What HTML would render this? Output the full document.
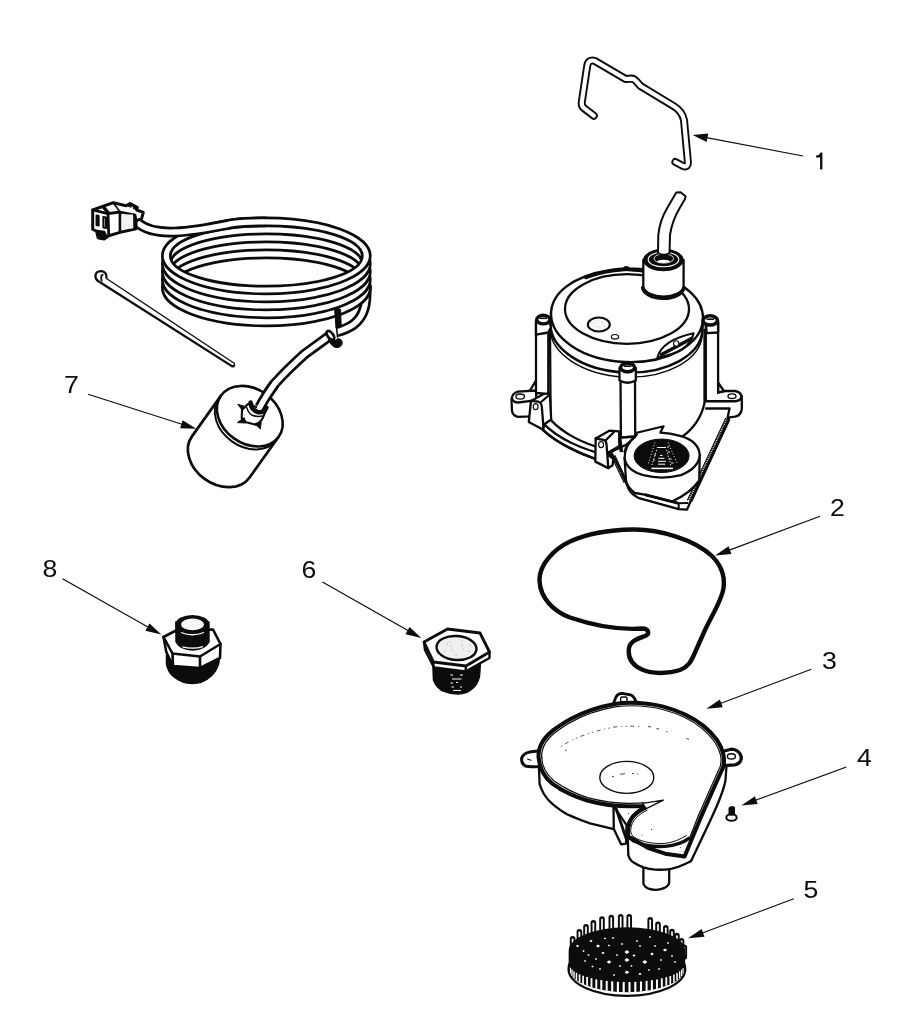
<!DOCTYPE html>
<html>
<head>
<meta charset="utf-8">
<title>Pump exploded view</title>
<style>
html,body{margin:0;padding:0;background:#fff;}
body{width:900px;height:1024px;overflow:hidden;font-family:"Liberation Sans",sans-serif;}
svg{display:block;}
.l{fill:none;stroke:#0c0c0c;stroke-width:2.3;stroke-linecap:round;stroke-linejoin:round;}
.w{fill:#fff;stroke:#0c0c0c;stroke-width:2.3;stroke-linecap:round;stroke-linejoin:round;}
.t{fill:none;stroke:#0c0c0c;stroke-width:1.1;stroke-linecap:round;stroke-linejoin:round;}
.k{fill:#0c0c0c;stroke:#0c0c0c;stroke-width:1;stroke-linejoin:round;}
.ar{stroke:#0c0c0c;stroke-width:1.2;fill:none;}
.ah{fill:#0c0c0c;stroke:none;}
text{font-family:"Liberation Sans",sans-serif;font-size:23px;fill:#0c0c0c;}
</style>
</head>
<body>
<svg width="900" height="1024" viewBox="0 0 900 1024">
<rect x="0" y="0" width="900" height="1024" fill="#fff"/>

<!-- ===== LABELS & ARROWS ===== -->
<g id="labels" style="opacity:.999">
<path d="M822.4,152.4 L822.4,169.4 L820.1,169.4 L820.1,157.5 L816.1,157.5 L816.1,155.5 Q819.6,155.2 820.7,152.4 Z" fill="#0c0c0c"/>
<text transform="translate(830.0 515.8) scale(1.16 1)">2</text>
<text transform="translate(822.0 668.8) scale(1.16 1)">3</text>
<text transform="translate(857.0 765.5) scale(1.16 1)">4</text>
<text transform="translate(803.5 898.0) scale(1.16 1)">5</text>
<text transform="translate(301.5 577.5) scale(1.16 1)">6</text>
<text transform="translate(64.0 392.5) scale(1.16 1)">7</text>
<text transform="translate(42.5 577) scale(1.16 1)">8</text>
</g>
<g id="arrows">
<line class="ar" x1="803" y1="156" x2="700" y2="136.4"/>
<polygon class="ah" points="692.7,135 708.3,133.4 706.6,142"/>
<line class="ar" x1="820" y1="516.3" x2="722" y2="552.9"/>
<polygon class="ah" points="715,555.5 728.6,546.2 731.4,554"/>
<line class="ar" x1="811.3" y1="669.3" x2="713" y2="706.2"/>
<polygon class="ah" points="706.3,708.8 719.9,699.4 722.8,707.2"/>
<line class="ar" x1="846.3" y1="767" x2="748" y2="803"/>
<polygon class="ah" points="741.3,805.5 754.9,796.3 757.7,804"/>
<line class="ar" x1="793.8" y1="898.8" x2="695" y2="935.7"/>
<polygon class="ah" points="688,938.3 701.6,928.9 704.5,936.7"/>
<line class="ar" x1="322.5" y1="582" x2="415" y2="634.5"/>
<polygon class="ah" points="421.3,638 405.5,634.2 409.6,627"/>
<line class="ar" x1="88" y1="394.3" x2="189" y2="426.5"/>
<polygon class="ah" points="196.3,428.8 180.2,428.2 182.7,420.2"/>
<line class="ar" x1="62.5" y1="578.8" x2="155" y2="631"/>
<polygon class="ah" points="161.3,634.5 145.4,630.7 149.5,623.5"/>
</g>

<!-- ===== PART 1 : HANDLE ===== -->
<g id="p1">
<path d="M593.8,115.7 L584,108.2 Q581.2,105.8 581.8,102 L587.2,66 Q588.2,59.2 594.5,60.8 L625.6,79 L631.5,78.6 Q634,78.6 636,81 L640.5,86 L674,106.3 Q682,111 684,120 L687.9,162 Q688.2,167.8 683,166 L675.4,162" fill="none" stroke="#0c0c0c" stroke-width="8" stroke-linecap="round" stroke-linejoin="round"/>
<path d="M593.8,115.7 L584,108.2 Q581.2,105.8 581.8,102 L587.2,66 Q588.2,59.2 594.5,60.8 L625.6,79 L631.5,78.6 Q634,78.6 636,81 L640.5,86 L674,106.3 Q682,111 684,120 L687.9,162 Q688.2,167.8 683,166 L675.4,162" fill="none" stroke="#fff" stroke-width="4.2" stroke-linecap="round" stroke-linejoin="round"/>
</g>

<!-- ===== PART 2 : GASKET ===== -->
<g id="p2">
<path d="M632.5,529.5 C660,529 695,540 712,556 C722,566 725,577 723.5,588 C722,600 712,615 705,630 L695,652.5 C691,662 688,667 680,670 C668,674 652,674 642,669.5 C632,665 627.5,658 629,648 C630,641 638,638.5 645,636 C650,634 649,628.5 642,628.5 C620,630 595,626 570,617.5 C553,611 540.5,598 539.5,581 C539,566 552,550 570,541.5 C590,532.5 612,529.8 632.5,529.5 Z" fill="none" stroke="#0c0c0c" stroke-width="4.4" stroke-linejoin="round"/>
</g>


<!-- ===== PUMP BODY ===== -->
<g id="pump">
<!-- base plate (behind) -->
<path class="w" d="M704.5,401 L718.1,392.4 L718,382.5 L723.9,391 L735,391 Q741.8,392 741.8,398.5 L741.8,409 Q741,415.5 735,416.7 L729.5,417.3 L690.5,501.5 L687,509.6 L678.7,509.1 L639,498.2 Q631,494 628.9,489.6 L621.7,472.2 L611,452 L640,438 Z"/>
<path d="M727.3,419.5 L689.3,501" fill="none" stroke="#0c0c0c" stroke-width="3.4" stroke-dasharray="1.1 0.9"/>
<path class="t" d="M725.6,418.5 L687.5,500"/>
<path d="M729.4,419.5 L691.2,501.8" fill="none" stroke="#0c0c0c" stroke-width="2"/>
<path class="l" d="M706,408.5 L729.5,408.5 L727.5,418"/>
<path class="l" d="M705.8,401.2 L735.5,401.2 Q741,400.5 741.8,396.8 M718.1,392.4 L724,391.2" style="stroke-width:2.6"/>
<ellipse class="w" cx="732" cy="396.2" rx="4" ry="2.3" style="stroke-width:1.4"/>
<path class="l" d="M678.7,503.3 L678.7,509.1 M678.7,503.3 L687.5,503 M678.7,503.3 L644.8,494.6" style="stroke-width:2"/>
<!-- left ear -->
<path class="w" d="M536,390.5 L518,391.6 Q511.8,393 511.5,400 L512,411 Q513,416 518,416.8 L531,416.3 L536.5,405 Z"/>
<path class="l" d="M511.8,398.5 Q513.5,402.5 518,402.5 L531,400.9"/>
<ellipse class="w" cx="520.2" cy="396.6" rx="4.3" ry="2.6" style="stroke-width:1.3"/>
<path class="l" d="M530.3,390 L536,380.7"/>
<!-- base flange left curve -->
<path class="w" d="M542.8,429.8 Q562,447 594.6,458.7 L606,462 L612,446 L596,440 L550,405 Z"/>
<path class="l" d="M551.2,420.4 Q567,437 595.3,446.4"/>
<path class="l" d="M544,424.1 Q562,442 595.3,452.2"/>
<path class="l" d="M542.8,429.8 Q560,446 594.6,458.7"/>
<!-- body cylinder -->
<path d="M550,330 L550.5,412 Q570,436 605,443 L640,436 L682,437 Q700,424 704.5,403 L704.5,330 Z" fill="#fff" stroke="none"/>
<path class="l" d="M550,330 L550.6,418 M704.5,330 L704.5,403 Q700,424 682,436.8"/>
<!-- step near discharge -->
<path class="l" d="M636.8,432.8 L663.6,426.3 L660.7,431.8" style="stroke-width:2.2"/>
<!-- discharge boss -->
<path class="w" d="M624.6,457.8 L626,481 Q628,488 635,493 L644.8,494.6 L672,501.5 Q690,493.5 699.3,480.5 L699.7,455 Z"/>
<path d="M644.8,494.6 L678.7,503.3" fill="none" stroke="#0c0c0c" stroke-width="2.8"/>
<path d="M636.8,434.7 Q624.6,445 624.6,457.8 Q626,470 643.3,475.1 Q662,480 680.9,475.1 Q699,468 699.7,454.9 Q699,441 680,435.8 Q670,433.2 660.5,433 Z" fill="#fff" stroke="none"/>
<path class="l" d="M636.8,434.7 Q624.6,445 624.6,457.8 Q626,470 643.3,475.1 Q662,480 680.9,475.1 Q699,468 699.7,454.9 Q699,441 680,435.8 Q670,433.2 660.5,432.6"/>
<ellipse class="k" cx="661.6" cy="455.8" rx="27.5" ry="16.7"/>
<g fill="none" stroke="#fff" stroke-width="1">
<path d="M657,447.5 L666,447.5 M660,455.4 L662.6,455.4 M658.3,458.3 L664.4,458.3 M658,461.3 L666,461.3 M658,464.2 L665.2,464.2"/>
<path d="M651.5,468.4 L673,468.4" stroke-width="1.5"/>
<path d="M655,442.5 L648.3,463.5 M668,442.5 L677.5,464" stroke-dasharray="1 2"/>
<path d="M656.7,450 L651.7,465.5 M666.7,450 L670.8,465.5" stroke-dasharray="1.2 1.7"/>
<path d="M654,455 L656,455 M668,452 L670,452 M653,460 L655,460 M669,459 L671.5,459 M671,463 L673.5,463 M667,447 L669,447" stroke-width=".9"/>
</g>
<!-- left edge of plate near boss -->
<path d="M613.5,456.5 L625.3,481.5" fill="none" stroke="#0c0c0c" stroke-width="3" stroke-dasharray="1.1 0.9"/>
<path class="t" d="M612,457.5 L624,482.5 M615,455.5 L626.5,480.5"/>
<!-- left bracket -->
<path class="w" d="M531,400.9 L546.9,392.3 L549.8,393.7 L551.2,419.5 L543.3,425 L543.3,429.8 L528.8,421.9 Z"/>
<path class="l" d="M531,400.9 L538.5,401.7 Q541.5,403 541.8,406.7 L543.3,425 M540.5,402.5 L549.8,394.5"/>
<ellipse class="w" cx="535.6" cy="406.7" rx="2.4" ry="3" style="stroke-width:1.2"/>
<!-- center bracket -->
<path class="w" d="M595.7,438.5 L609.7,430.6 L619.1,431.3 L619.5,446 L608.2,452.5 L613.3,458.7 L612.6,465.2 L608.3,468.1 L595.3,461.6 Z"/>
<path class="l" d="M595.7,438.5 L603.5,439.8 Q606.3,441 606.5,444 L608.3,468.1 M605.5,440.5 L614,432 M608.3,455.1 L613.3,458.7"/>
<ellipse class="w" cx="601.1" cy="444.7" rx="2.4" ry="3" style="stroke-width:1.2"/>
<!-- posts -->
<path class="w" d="M536,322 L536,393 L548.3,393.9 L548.3,322 Z"/>
<path d="M705.8,322 L705.8,399.9 L717,399.9 L717,322 Z" fill="#fff" stroke="none"/>
<path class="l" d="M705.8,322 L705.8,400.5 M718.1,322 L718.1,392.4"/>
<path class="w" d="M620.5,375 L620.9,437.3 L635.2,436.5 L635,375 Z"/>
<path d="M619.6,438 L621.5,452" stroke="#0c0c0c" stroke-width="3.6" fill="none"/>
<path class="l" d="M621,437.5 L635,436.6 M635,437 L627,444 L624.6,452"/>
<!-- lid -->
<g transform="rotate(2.5 627 316)">
<path class="l" d="M551,331 A76,46 0 0 0 703,331" style="stroke-width:1.5"/>
<path class="w" d="M551,316 L551,326.5 A76,46 0 0 0 703,326.5 L703,316 Z" style="stroke-width:2.5"/>
<ellipse class="w" cx="627" cy="316" rx="76" ry="46" style="stroke-width:2.4"/>
</g>
<path d="M586,277.3 Q604,270.5 624,269.3 Q626,266.5 629,269.2 L644,270" fill="none" stroke="#0c0c0c" stroke-width="3.9" stroke-linecap="round"/>
<ellipse class="l" cx="627" cy="309" rx="62" ry="34.8" style="stroke-width:2.3"/>
<!-- lid small features -->
<ellipse cx="598.8" cy="324.5" rx="11" ry="7" fill="#f7f7f7" stroke="#0c0c0c" stroke-width="2.1"/>
<g fill="#d4d4d4"><circle cx="594" cy="323" r=".7"/><circle cx="598" cy="326.5" r=".7"/><circle cx="602" cy="322.5" r=".7"/><circle cx="600" cy="328" r=".7"/><circle cx="604.5" cy="326" r=".7"/><circle cx="596.5" cy="320.5" r=".7"/></g>
<ellipse class="w" cx="615" cy="336.8" rx="3.6" ry="2.3" style="stroke-width:1.2"/>
<path class="w" d="M657.4,357.5 Q662,340 693.6,333.2 Q690,352 657.4,357.5 Z" style="stroke-width:2.1"/>
<path d="M661.5,354.5 Q674,348 691.5,338.5" fill="none" stroke="#0c0c0c" stroke-width="3.6" stroke-linecap="round"/>
<circle class="w" cx="676.2" cy="343.5" r="2.7" style="stroke-width:1.1"/>
<!-- left post cap + lug -->
<path class="w" d="M536,321 L536,334.7 L548.3,332.5 L551,327 L548,319 Z"/>
<ellipse cx="543.3" cy="319.6" rx="6.6" ry="4.3" fill="#fff" stroke="#0c0c0c" stroke-width="3.4"/>
<path d="M539.5,318.3 L547,318.3" stroke="#0c0c0c" stroke-width="1.6" fill="none"/>
<!-- right post cap + lug -->
<path class="w" d="M705.8,321 L706.6,333.2 L718.1,332.5 L718.1,321 Z"/>
<ellipse cx="710.2" cy="320.4" rx="7.2" ry="4.6" fill="#fff" stroke="#0c0c0c" stroke-width="3.6"/>
<path d="M706.5,319.2 L714,319.2" stroke="#0c0c0c" stroke-width="1.6" fill="none"/>
<!-- center post cap -->
<path class="w" d="M619.5,368 L619.5,380.5 Q627.5,385 635.8,380.5 L635.8,368 Z"/>
<ellipse cx="627.6" cy="367.5" rx="7" ry="4.3" fill="#fff" stroke="#0c0c0c" stroke-width="3.4"/>
<path d="M624,366.2 L631.4,366.2" stroke="#0c0c0c" stroke-width="1.6" fill="none"/>
<!-- gland -->
<path class="w" d="M643.3,260 L643.3,287 A20.3,11 0 0 0 683.6,287 L683.6,260 Z"/>
<path d="M642.6,286.5 A20.6,11.6 0 0 0 684,287" fill="none" stroke="#0c0c0c" stroke-width="3.4"/>
<ellipse class="k" cx="663.4" cy="260" rx="20" ry="10.8"/>
<ellipse cx="663.5" cy="259.4" rx="15.3" ry="7.4" fill="none" stroke="#fff" stroke-width="1.1"/>
<ellipse cx="663.8" cy="258.5" rx="9.8" ry="4.6" fill="none" stroke="#fff" stroke-width=".8"/>
<ellipse cx="663.6" cy="261.4" rx="6.2" ry="1.7" fill="#fff"/>
<!-- cable -->
<path class="w" d="M658,253 L658.3,235 Q659.5,221 667.5,207.5 L676.3,192.5 L680.5,192.3 L685.6,196.3 L685,199 L680,207.5 Q672,221 670,235 L669.5,253 Q663.8,256.5 658,253 Z" style="stroke-width:2"/>
</g>

<!-- ===== PART 7 : CORD, FLOAT ===== -->
<g id="p7">
<defs><clipPath id="coilin"><ellipse cx="266.3" cy="256.0" rx="96.0" ry="30.2"/></clipPath></defs>
<path d="M366.5,285 L365.8,300 Q364.5,316 353.5,324.5 Q347,329 337,331.8" fill="none" stroke="#0c0c0c" stroke-width="10.8" stroke-linecap="butt"/>
<path d="M366.5,285 L365.8,300 Q364.5,316 353.5,324.5 Q347,329 337,331.8" fill="none" stroke="#fff" stroke-width="5.4" stroke-linecap="butt"/>
<path d="M330,335.6 L305,353.8 Q286,371 274.5,384 Q268,393 263,401" fill="none" stroke="#0c0c0c" stroke-width="10.7" stroke-linecap="butt"/>
<path d="M330,335.6 L305,353.8 Q286,371 274.5,384 Q268,393 263,401" fill="none" stroke="#fff" stroke-width="5.3" stroke-linecap="butt"/>
<ellipse cx="330.4" cy="335.4" rx="5.3" ry="2.7" transform="rotate(52 330.4 335.4)" class="w" style="stroke-width:2.7"/>
<ellipse class="w" style="stroke-width:2.7" cx="266.3" cy="287.8" rx="104.0" ry="38.0"/>
<ellipse class="w" style="stroke-width:2.7" cx="266.3" cy="279.8" rx="104.0" ry="38.0"/>
<ellipse class="w" style="stroke-width:2.7" cx="266.3" cy="271.8" rx="104.0" ry="38.0"/>
<ellipse class="w" style="stroke-width:2.7" cx="266.3" cy="263.8" rx="104.0" ry="38.0"/>
<ellipse class="w" style="stroke-width:2.7" cx="266.3" cy="255.8" rx="104.0" ry="38.0"/>
<g clip-path="url(#coilin)">
<ellipse class="l" style="stroke-width:2.7" cx="266.3" cy="288.0" rx="96.0" ry="30.2"/>
<ellipse class="l" style="stroke-width:2.7" cx="266.3" cy="280.0" rx="96.0" ry="30.2"/>
<ellipse class="l" style="stroke-width:2.7" cx="266.3" cy="272.0" rx="96.0" ry="30.2"/>
<ellipse class="l" style="stroke-width:2.7" cx="266.3" cy="264.0" rx="96.0" ry="30.2"/>
</g>
<ellipse class="l" style="stroke-width:2.7" cx="266.3" cy="256.0" rx="96.0" ry="30.2"/>
<path d="M137,222.3 C146,230.5 160,232.6 175,232 C195,231.2 215,227 232,223.7 C245,221.6 255,221.6 266,221.9" fill="none" stroke="#0c0c0c" stroke-width="10.7" stroke-linecap="butt"/>
<path d="M137,222.3 C146,230.5 160,232.6 175,232 C195,231.2 215,227 232,223.7 C245,221.6 255,221.6 266,221.9" fill="none" stroke="#fff" stroke-width="5.3" stroke-linecap="butt"/>
<path class="k" d="M334.6,309.5 Q337.5,306.5 340.6,309.5 L341.2,325.5 L336,327.5 Z"/>
<path class="l" d="M336.5,327 L337.5,337" style="stroke-width:1.6"/>
<path class="k" d="M328.5,339.5 Q333,343 338,338.6 Q342.5,339 342.2,343.5 Q341,348 336,347.6 Q331,346.5 328.5,339.5 Z"/>
<g stroke="#0c0c0c" stroke-linejoin="round" stroke-linecap="round">
<path d="M92.7,210 L113.3,202.7 L126,205.7 L130,203.5 L137.3,207.3 L136.7,210 L143.3,212.4 L141.6,218.7 L136,220.9 L136,228.7 L120,232.4 L108.7,235.8 L104,239 L98,237.5 L96.5,231 L92.7,229.3 Z" fill="#fff" stroke-width="3"/>
<path d="M92.7,210 L108,213.7 L108.7,234.5 M108,213.7 L120,212 L120,231.5 M120,212 L135,215 L136,220.9 M134.5,215 L134.7,228" fill="none" stroke-width="2.8"/>
<path d="M103.3,206.8 L108.7,213.3" fill="none" stroke-width="3.4"/>
<path d="M113.3,202.7 L120,212" fill="none" stroke-width="1.6"/>
<rect x="121.5" y="214.5" width="11.5" height="14" fill="#f2f2f2" stroke="none"/>
<path d="M96.6,215.5 L96.6,225 L98.6,225.5 L98.6,216 Z M103.4,217 L103.4,227.5 L106,228 L106,217.6 Z" fill="#fff" stroke-width="2.1"/>
<path d="M97.3,230.5 L104.5,231.5 L106.7,236 L103,239.3 L98,238.5 Z" fill="#0c0c0c" stroke-width="1.5"/>
<path d="M126.5,205.3 L130,203.3 L133,205 L131.5,207 Z M134.5,206 L137.5,207.4 L136.7,210 L133.5,208.5 Z" fill="#0c0c0c" stroke-width="1"/>
</g>
<path d="M96.6,272.6 Q99,270.6 102.5,271.3 Q106,272.3 106.3,275.5 L106.5,278.5 L234.2,363.2 L234.6,366 L232.2,366.4 L100,282.2 Q96.3,280.5 95.6,277.5 Q95.2,274.4 96.6,272.6 Z" fill="#fff" stroke="none"/>
<path d="M106.5,278.5 L234.2,363.2 L234.6,366" fill="none" stroke="#0c0c0c" stroke-width="1.3" stroke-linejoin="round"/>
<path d="M234.6,366 L232.2,366.4 L100,282.2" fill="none" stroke="#0c0c0c" stroke-width="2.3" stroke-linejoin="round"/>
<path d="M106.5,278.8 L106.3,275.5 Q106,272.3 102.5,271.3 Q99,270.6 96.6,272.6 Q95.2,274.4 95.6,277.5 Q96.3,280.5 100,282.2" fill="none" stroke="#0c0c0c" stroke-width="2.2" stroke-linejoin="round"/>
<path d="M101.6,281.5 L101.2,276.5 Q101.5,274.6 103.4,274.6" fill="none" stroke="#0c0c0c" stroke-width="1.8"/>
<g transform="translate(249.8,416.2) rotate(35.5)">
<path class="w" d="M-35.4,0 L-35.4,50 A35.4,27.3 0 0 0 35.4,50 L35.4,0 Z" style="stroke-width:2.7"/>
<ellipse class="w" cx="0" cy="3.6" rx="35.4" ry="27.3" style="stroke-width:2"/>
<ellipse class="w" cx="0" cy="0" rx="35.4" ry="27.3" style="stroke-width:2.6"/>
</g>
<path class="w" d="M248,404 L242,410 L241.7,418 L245.5,422 L256.5,425 L262,419.5 L266,410.5 Z" style="stroke-width:2.1"/>
<path class="k" d="M237.8,404.2 L244.8,406.4 L242.2,410.2 Z M237.4,422.6 L244.2,417.6 L246,423 Z M254.8,423.6 L261.2,421.8 L260.4,429 Z"/>
<path class="l" d="M246.8,407.6 Q248.6,413.6 252.2,415.3 Q257,417.2 262.3,416.1" style="stroke-width:1.5"/>
<path d="M250.6,402.6 Q251,410 258.4,412.2 Q264.5,412.6 266.4,407.6" fill="none" stroke="#0c0c0c" stroke-width="4.6" stroke-linecap="round"/>
<path d="M274.5,384 Q265.5,396.5 259.8,407.2" fill="none" stroke="#0c0c0c" stroke-width="10.7" stroke-linecap="butt"/>
<path d="M275.5,382.6 Q265.5,396.5 259.8,407.2" fill="none" stroke="#fff" stroke-width="5.3" stroke-linecap="round"/>
</g>

<!-- ===== PART 8 : FITTING ===== -->
<g id="p8" stroke-linejoin="round">
<path d="M166.5,655 L166.5,664 Q168,672 174,677 Q182,683.5 192,683.5 Q203,683.5 210,677 Q217,671 219,662 L219.5,652 Z" fill="#0c0c0c" stroke="#0c0c0c" stroke-width="1.5"/>
<path d="M163.5,637 L166.3,652 L173,666 L200,668 L220,658 L220.5,644 Z" fill="#fff" stroke="#0c0c0c" stroke-width="2.6"/>
<path d="M163.5,637 L175,631 L213,629.5 L220.5,644 L200,656.5 L172.5,653.5 Z" fill="#fff" stroke="#0c0c0c" stroke-width="2.6"/>
<path d="M172.5,653.5 L173,666 M200,656.5 L200,668" fill="none" stroke="#0c0c0c" stroke-width="2.6"/>
<path d="M175.8,622 L176,642 Q180,649.5 192.5,650 Q205,649.5 209,642 L209,622 Z" fill="#0c0c0c" stroke="#0c0c0c" stroke-width="1.4"/>
<path d="M181,632.5 Q192,637 204,632.5" fill="none" stroke="#fff" stroke-width="1.3"/>
<path d="M182.5,646.8 Q192.5,649.6 203,646.6" fill="none" stroke="#fff" stroke-width="1.2"/>
<ellipse cx="192.4" cy="623.5" rx="16.6" ry="8.6" fill="#0c0c0c"/>
<ellipse cx="192.5" cy="624.3" rx="11.5" ry="5.9" fill="#f6f6f6"/>
</g>
<!-- ===== PART 6 : PLUG ===== -->
<g id="p6" stroke-linejoin="round">
<path d="M432.8,664 L433.5,680 Q436,687 442,690.5 Q450,694 458,694 Q467,693.5 472,689 Q478,684 479.5,676 L480.5,662 Z" fill="#0c0c0c" stroke="#0c0c0c" stroke-width="1.5"/>
<path d="M450.5,675 L453,675 M460,675 L463,675 M452,679 L461.5,679 M450.5,683 L453,683 M456,682.4 L458,682.4 M451.5,687 L454,687 M460,687 L462,687 M453,690.4 L461,690.4" fill="none" stroke="#fff" stroke-width="1"/>
<path d="M424,642 L425,650 L434,667.5 L465.5,671.5 L489.5,658 L489.5,652 Z" fill="#fff" stroke="#0c0c0c" stroke-width="2.4"/>
<path d="M424.6,643.5 L433.5,662 L434,667 L425.4,650 Z" fill="#0c0c0c" stroke="#0c0c0c" stroke-width="1.6"/>
<path d="M427,651 L432,661" fill="none" stroke="#fff" stroke-width=".8" stroke-dasharray="1.4 1.6"/>
<path d="M424,642 L447.5,629 L480,633 L489.5,652 L466,666 L433.5,662 Z" fill="#fff" stroke="#0c0c0c" stroke-width="2.8"/>
<path d="M466,666 L465.5,671.5" fill="none" stroke="#0c0c0c" stroke-width="2.4"/>
<ellipse cx="456.5" cy="648" rx="20" ry="12" transform="rotate(4 456.5 648)" fill="#efefef" stroke="#0c0c0c" stroke-width="2.4"/>
<g fill="#9a9a9a"><circle cx="450" cy="642.5" r=".6"/><circle cx="451" cy="646" r=".6"/><circle cx="452" cy="650" r=".6"/><circle cx="462" cy="641" r=".6"/><circle cx="462" cy="645" r=".6"/><circle cx="463" cy="649" r=".6"/><circle cx="445" cy="651" r=".6"/><circle cx="469" cy="651.5" r=".6"/><circle cx="456" cy="655" r=".6"/><circle cx="447" cy="644" r=".6"/><circle cx="470" cy="645" r=".6"/></g>
</g>

<!-- ===== PART 3 : VOLUTE ===== -->
<g id="p3">
<path class="w" d="M643.4,866 L643.4,884 C645,887 646.5,887.8 647.8,888.3 C652,889.8 654,889.9 656.4,889.8 C661,889.5 663,888.6 665.1,887.6 C668,886 669,884 669.2,882.6 L669.2,866 Z"/>
<path class="w" d="M627.6,830 L628.3,855.1 C629.5,859 631,861 633.3,862.3 C638,865.5 641,866.5 643.4,867.4 C648,869 652,869.5 655,869.6 C662,870 667,869.5 670.9,868.8 C677,867.5 681,866 683.9,864.5 C688,862.5 690,862 691.1,860.9 L709.6,822 C716,808 723.5,793 725.5,780 L726.4,767 L722,760 L690,790 Z"/>
<path class="w" d="M538.6,760 L539.6,783.9 C541,789 543,792 543.9,794 C547,799 550,802 552.6,804.1 C558,808.5 562,811.5 567,814.2 C575,818 583,821 590,823.3 L613.8,829.1 L621.1,844.3 L626.1,843.6 L626.5,825 L613.5,806 L560,790 Z"/>
<path class="l" d="M613.8,829.1 L613.5,807"/>
<path d="M616,808.2 L626.1,838.5" fill="none" stroke="#0c0c0c" stroke-width="2.8"/>
<path class="w" d="M540,750.7 L529.4,752.1 Q522.9,753.5 521.6,758.5 Q521.3,763.5 525.1,765.8 Q528,767 540,766.6 Z" style="stroke-width:3"/>
<path class="t" d="M527.5,759 L531,760.2"/>
<path class="w" d="M612.8,705 L616.1,696.8 Q618,693.4 621.9,693.4 L630.6,694.8 Q633,695.5 634.5,698.5 L637,703.5 Z" style="stroke-width:2.8"/>
<rect x="620.6" y="697" width="6.4" height="4.6" rx="1.6" class="w" style="stroke-width:1.4"/>
<path class="w" d="M722,751.5 L731.2,749.2 Q737,749.5 739.9,753.6 Q742.3,757.5 740.8,760.5 Q739,764 735,764.8 L723,765.6 Z" style="stroke-width:3.2"/>
<ellipse class="w" cx="731.4" cy="756.4" rx="4" ry="2.6" style="stroke-width:1.4"/>
<path d="M538.5,757 C538,745 546,735 557,727.5 C572,716.5 592,708 616,703.7 C632,701.8 650,703.5 663.3,706.6 C680,711 695,719 703.8,726.1 C714,734.5 721,744 723.3,754 C725,762 723.5,768 721,772 L712.4,791.1 L700.9,817.1 L684.6,856.6 L665.1,853.7 L647.8,847.9 L628.3,836.3 C627,826 630,820 633.3,816.1 C637,812 641,809.5 645.6,807.4 L644.9,806.3 L630.6,806.3 C615,806.5 600,804 587.2,800.5 C575,797 562,790.5 552.6,783.9 C545,778 539.5,769 538.5,757 Z" fill="#fff" stroke="#0c0c0c" stroke-width="4" stroke-linejoin="round"/>
<path class="t" d="M644,802.8 L630.6,803.3 C615,803.5 600,801 587.8,797.6 C576,794 563.5,787.5 554.5,781.3 C547,775 542,767 541.6,757 C541.5,746 549,736.5 559,729.8 C573.5,719 593,710.8 616.3,706.7 C632,704.8 650,706.4 662.6,709.5 C679,713.8 693.5,721.5 701.9,728.4 C711.5,736.5 718.3,745.5 720.4,754.6 C722,762 720.7,767 718.3,770.8 L709.7,790 L698.2,816 L689.7,837.8" style="stroke-width:1.2"/>
<path d="M689.7,837.8 C684,842 675,845.5 665.1,846.4 C655,847 642,845 633.3,840.7 C628.5,838 627,834 627.6,830 C627.8,824 630,819.5 633.3,816.1 C637,812 641,809.5 646,807.6" fill="none" stroke="#0c0c0c" stroke-width="3.4" stroke-linejoin="round"/>
<path class="t" d="M686.5,835.5 C680,839.5 673,842.5 665,843.4 C655,844 644,842.5 636.5,838.5 C631.5,836 630.3,832.5 630.8,829.5 C631,825 633,821 636,818 C639.5,814.5 643,812 647,810.3" style="stroke-width:1"/>
<path d="M642.5,803.3 L663.4,800.1 L646.3,808.6 Z" fill="#fff" stroke="#0c0c0c" stroke-width="1.3" stroke-linejoin="round"/>
<ellipse cx="626.8" cy="777.4" rx="27" ry="16" fill="#fff" stroke="#0c0c0c" stroke-width="1.4"/>
<path d="M561,746.5 C575,737 595,730.5 616,726.8 C625,726 632,726 640,726.6" fill="none" stroke="#555" stroke-width="1" stroke-dasharray="1.5 3.5 4 4 1 3"/>
<path d="M648,726.5 L651,727 M656.5,728.5 L659,729 M666,731.5 L667.5,732 M686.5,738.5 L689,739.3 M565,750.5 L566.5,750 M541.5,757.5 L543,757.5" fill="none" stroke="#444" stroke-width="1"/>
<path d="M612,776.5 L614,776.3 M620,774.2 L625,773.8 M632,773.5 L634,773.5 M637.5,773.8 L638.5,774" fill="none" stroke="#444" stroke-width="1"/>
<g fill="#444"><circle cx="651.5" cy="829.5" r=".7"/><circle cx="642" cy="835" r=".6"/><circle cx="628.5" cy="813.5" r=".6"/><circle cx="680.5" cy="847.5" r=".6"/><circle cx="684" cy="851.5" r=".6"/></g>
</g>
<!-- ===== PART 4 : SCREW ===== -->
<g id="p4">
<path d="M729.3,808 Q731.5,805.8 734.2,807.5 L734.2,816 L729.3,816 Z" fill="#0c0c0c" stroke="#0c0c0c" stroke-width="1.6"/>
<ellipse cx="731.5" cy="817.5" rx="5.2" ry="3.3" fill="#fff" stroke="#0c0c0c" stroke-width="2"/>
<path d="M729.5,814.5 L734,814.5" stroke="#0c0c0c" stroke-width="2" fill="none"/>
</g>

<!-- ===== PART 5 : STRAINER ===== -->
<g id="p5">
<ellipse cx="626.9" cy="969" rx="58.4" ry="26.8" fill="#fff" stroke="#0c0c0c" stroke-width="2.2"/>
<path d="M572.6,938.8 L572.6,947.0" stroke="#0c0c0c" stroke-width="5.6" stroke-linecap="round" fill="none"/><path d="M572.6,939.3 L572.6,944.5" stroke="#fff" stroke-width="1.7" stroke-linecap="round" fill="none"/>
<path d="M579.4,931.8 L579.4,944.0" stroke="#0c0c0c" stroke-width="5.6" stroke-linecap="round" fill="none"/><path d="M579.4,932.3 L579.4,941.5" stroke="#fff" stroke-width="1.7" stroke-linecap="round" fill="none"/>
<path d="M586.0,926.8 L586.0,940.0" stroke="#0c0c0c" stroke-width="5.6" stroke-linecap="round" fill="none"/><path d="M586.0,927.3 L586.0,937.5" stroke="#fff" stroke-width="1.7" stroke-linecap="round" fill="none"/>
<path d="M593.4,922.8 L593.4,937.0" stroke="#0c0c0c" stroke-width="5.6" stroke-linecap="round" fill="none"/><path d="M593.4,923.3 L593.4,934.5" stroke="#fff" stroke-width="1.7" stroke-linecap="round" fill="none"/>
<path d="M602.0,919.1 L602.0,934.0" stroke="#0c0c0c" stroke-width="5.6" stroke-linecap="round" fill="none"/><path d="M602.0,919.6 L602.0,931.5" stroke="#fff" stroke-width="1.7" stroke-linecap="round" fill="none"/>
<path d="M611.3,917.6 L611.3,932.0" stroke="#0c0c0c" stroke-width="5.6" stroke-linecap="round" fill="none"/><path d="M611.3,918.1 L611.3,929.5" stroke="#fff" stroke-width="1.7" stroke-linecap="round" fill="none"/>
<path d="M620.7,916.8 L620.7,931.0" stroke="#0c0c0c" stroke-width="5.6" stroke-linecap="round" fill="none"/><path d="M620.7,917.3 L620.7,928.5" stroke="#fff" stroke-width="1.7" stroke-linecap="round" fill="none"/>
<path d="M629.2,916.8 L629.2,931.0" stroke="#0c0c0c" stroke-width="5.6" stroke-linecap="round" fill="none"/><path d="M629.2,917.3 L629.2,928.5" stroke="#fff" stroke-width="1.7" stroke-linecap="round" fill="none"/>
<path d="M650.2,919.8 L650.2,934.0" stroke="#0c0c0c" stroke-width="5.6" stroke-linecap="round" fill="none"/><path d="M650.2,920.3 L650.2,931.5" stroke="#fff" stroke-width="1.7" stroke-linecap="round" fill="none"/>
<path d="M658.0,924.3 L658.0,936.0" stroke="#0c0c0c" stroke-width="5.6" stroke-linecap="round" fill="none"/><path d="M658.0,924.8 L658.0,933.5" stroke="#fff" stroke-width="1.7" stroke-linecap="round" fill="none"/>
<path d="M665.8,927.8 L665.8,939.0" stroke="#0c0c0c" stroke-width="5.6" stroke-linecap="round" fill="none"/><path d="M665.8,928.3 L665.8,936.5" stroke="#fff" stroke-width="1.7" stroke-linecap="round" fill="none"/>
<path d="M672.0,931.6 L672.0,942.0" stroke="#0c0c0c" stroke-width="5.6" stroke-linecap="round" fill="none"/><path d="M672.0,932.1 L672.0,939.5" stroke="#fff" stroke-width="1.7" stroke-linecap="round" fill="none"/>
<path d="M676.9,935.5 L676.9,946.0" stroke="#0c0c0c" stroke-width="5.6" stroke-linecap="round" fill="none"/><path d="M676.9,936.0 L676.9,943.5" stroke="#fff" stroke-width="1.7" stroke-linecap="round" fill="none"/>
<path d="M681.5,940.8 L681.5,951.0" stroke="#0c0c0c" stroke-width="5.6" stroke-linecap="round" fill="none"/><path d="M681.5,941.3 L681.5,948.5" stroke="#fff" stroke-width="1.7" stroke-linecap="round" fill="none"/>
<path d="M684.3,947.3 L684.3,957.0" stroke="#0c0c0c" stroke-width="5.6" stroke-linecap="round" fill="none"/><path d="M684.3,947.8 L684.3,954.5" stroke="#fff" stroke-width="1.7" stroke-linecap="round" fill="none"/>
<path d="M569.4,950.5 A57.5,22.5 0 0 1 684.4,950.5 L684.4,968.0 A57.5,23.5 0 0 1 569.4,968.0 Z" fill="#0c0c0c" stroke="#0c0c0c" stroke-width="1.5"/>
<path d="M683.1,967.9 L683.1,973.7" stroke="#fff" stroke-width="1.1" fill="none"/>
<path d="M681.6,969.6 L681.6,976.0" stroke="#fff" stroke-width="1.3" fill="none"/>
<path d="M679.6,971.3 L679.6,978.2" stroke="#fff" stroke-width="1.4" fill="none"/>
<path d="M677.0,972.9 L677.0,980.3" stroke="#fff" stroke-width="1.5" fill="none"/>
<path d="M673.9,974.5 L673.9,982.3" stroke="#fff" stroke-width="1.6" fill="none"/>
<path d="M670.3,975.9 L670.3,984.2" stroke="#fff" stroke-width="1.7" fill="none"/>
<path d="M666.3,977.2 L666.3,985.9" stroke="#fff" stroke-width="1.8" fill="none"/>
<path d="M661.8,978.3 L661.8,987.5" stroke="#fff" stroke-width="1.9" fill="none"/>
<path d="M657.0,979.4 L657.0,988.8" stroke="#fff" stroke-width="1.9" fill="none"/>
<path d="M651.9,980.2 L651.9,990.0" stroke="#fff" stroke-width="2.0" fill="none"/>
<path d="M646.6,980.9 L646.6,990.9" stroke="#fff" stroke-width="2.0" fill="none"/>
<path d="M641.0,981.5 L641.0,991.6" stroke="#fff" stroke-width="2.1" fill="none"/>
<path d="M635.3,981.8 L635.3,992.0" stroke="#fff" stroke-width="2.1" fill="none"/>
<path d="M629.5,982.0 L629.5,992.3" stroke="#fff" stroke-width="2.1" fill="none"/>
<path d="M623.7,982.0 L623.7,992.3" stroke="#fff" stroke-width="2.1" fill="none"/>
<path d="M617.9,981.8 L617.9,992.0" stroke="#fff" stroke-width="2.1" fill="none"/>
<path d="M612.2,981.4 L612.2,991.5" stroke="#fff" stroke-width="2.1" fill="none"/>
<path d="M606.7,980.9 L606.7,990.8" stroke="#fff" stroke-width="2.0" fill="none"/>
<path d="M601.3,980.1 L601.3,989.8" stroke="#fff" stroke-width="2.0" fill="none"/>
<path d="M596.3,979.3 L596.3,988.7" stroke="#fff" stroke-width="1.9" fill="none"/>
<path d="M591.5,978.2 L591.5,987.3" stroke="#fff" stroke-width="1.8" fill="none"/>
<path d="M587.1,977.0 L587.1,985.8" stroke="#fff" stroke-width="1.8" fill="none"/>
<path d="M583.1,975.7 L583.1,984.0" stroke="#fff" stroke-width="1.7" fill="none"/>
<path d="M579.6,974.3 L579.6,982.1" stroke="#fff" stroke-width="1.6" fill="none"/>
<path d="M576.5,972.8 L576.5,980.1" stroke="#fff" stroke-width="1.5" fill="none"/>
<path d="M574.0,971.2 L574.0,978.0" stroke="#fff" stroke-width="1.4" fill="none"/>
<path d="M572.0,969.5 L572.0,975.7" stroke="#fff" stroke-width="1.3" fill="none"/>
<path d="M570.5,967.7 L570.5,973.4" stroke="#fff" stroke-width="1.1" fill="none"/>
<path d="M575.8,946.0 l1.7,-1.3 l1.7,1.3 l-1.7,1.3 Z" fill="#fff"/>
<path d="M582.2,951.0 l1.3,-1.0 l1.3,1.0 l-1.3,1.0 Z" fill="#fff"/>
<path d="M589.4,941.0 l1.6,-1.2 l1.6,1.2 l-1.6,1.2 Z" fill="#fff"/>
<path d="M595.9,946.0 l2.1,-1.6 l2.1,1.6 l-2.1,1.6 Z" fill="#fff"/>
<path d="M587.2,955.0 l1.3,-1.0 l1.3,1.0 l-1.3,1.0 Z" fill="#fff"/>
<path d="M594.7,959.0 l1.3,-1.0 l1.3,1.0 l-1.3,1.0 Z" fill="#fff"/>
<path d="M601.4,953.0 l1.6,-1.2 l1.6,1.2 l-1.6,1.2 Z" fill="#fff"/>
<path d="M607.7,945.5 l1.3,-1.0 l1.3,1.0 l-1.3,1.0 Z" fill="#fff"/>
<path d="M606.7,962.0 l2.3,-1.8 l2.3,1.8 l-2.3,1.8 Z" fill="#fff"/>
<path d="M615.7,955.0 l1.3,-1.0 l1.3,1.0 l-1.3,1.0 Z" fill="#fff"/>
<path d="M611.7,938.0 l1.3,-1.0 l1.3,1.0 l-1.3,1.0 Z" fill="#fff"/>
<path d="M624.4,952.0 l2.5,-1.9 l2.5,1.9 l-2.5,1.9 Z" fill="#fff"/>
<path d="M624.3,960.0 l2.6,-2.0 l2.6,2.0 l-2.6,2.0 Z" fill="#fff"/>
<path d="M618.7,966.0 l1.3,-1.0 l1.3,1.0 l-1.3,1.0 Z" fill="#fff"/>
<path d="M624.6,972.3 l2.3,-1.8 l2.3,1.8 l-2.3,1.8 Z" fill="#fff"/>
<path d="M632.4,955.5 l1.6,-1.2 l1.6,1.2 l-1.6,1.2 Z" fill="#fff"/>
<path d="M638.7,946.0 l1.3,-1.0 l1.3,1.0 l-1.3,1.0 Z" fill="#fff"/>
<path d="M642.3,962.0 l2.5,-1.9 l2.5,1.9 l-2.5,1.9 Z" fill="#fff"/>
<path d="M635.7,941.0 l1.3,-1.0 l1.3,1.0 l-1.3,1.0 Z" fill="#fff"/>
<path d="M650.2,954.0 l1.8,-1.4 l1.8,1.4 l-1.8,1.4 Z" fill="#fff"/>
<path d="M653.7,946.0 l1.3,-1.0 l1.3,1.0 l-1.3,1.0 Z" fill="#fff"/>
<path d="M659.7,960.0 l1.3,-1.0 l1.3,1.0 l-1.3,1.0 Z" fill="#fff"/>
<path d="M662.9,950.0 l2.1,-1.6 l2.1,1.6 l-2.1,1.6 Z" fill="#fff"/>
<path d="M670.7,956.0 l1.3,-1.0 l1.3,1.0 l-1.3,1.0 Z" fill="#fff"/>
<path d="M657.7,969.0 l1.3,-1.0 l1.3,1.0 l-1.3,1.0 Z" fill="#fff"/>
<path d="M648.7,937.0 l1.3,-1.0 l1.3,1.0 l-1.3,1.0 Z" fill="#fff"/>
<path d="M598.7,969.0 l1.3,-1.0 l1.3,1.0 l-1.3,1.0 Z" fill="#fff"/>
<path d="M612.7,975.0 l1.3,-1.0 l1.3,1.0 l-1.3,1.0 Z" fill="#fff"/>
<path d="M638.4,974.0 l1.6,-1.2 l1.6,1.2 l-1.6,1.2 Z" fill="#fff"/>
<path d="M666.7,943.0 l1.3,-1.0 l1.3,1.0 l-1.3,1.0 Z" fill="#fff"/>
<path d="M603.7,938.5 l1.3,-1.0 l1.3,1.0 l-1.3,1.0 Z" fill="#fff"/>
<path d="M620.7,944.0 l1.3,-1.0 l1.3,1.0 l-1.3,1.0 Z" fill="#fff"/>
<path d="M630.3,966.0 l1.2,-0.9 l1.2,0.9 l-1.2,0.9 Z" fill="#fff"/>
<path d="M583.8,961.0 l1.2,-0.9 l1.2,0.9 l-1.2,0.9 Z" fill="#fff"/>
<path d="M673.8,962.0 l1.2,-0.9 l1.2,0.9 l-1.2,0.9 Z" fill="#fff"/>
<path d="M647.8,970.0 l1.2,-0.9 l1.2,0.9 l-1.2,0.9 Z" fill="#fff"/>
<path d="M591.3,966.5 l1.2,-0.9 l1.2,0.9 l-1.2,0.9 Z" fill="#fff"/>
</g>

<!-- PARTS -->
</svg>
</body>
</html>
